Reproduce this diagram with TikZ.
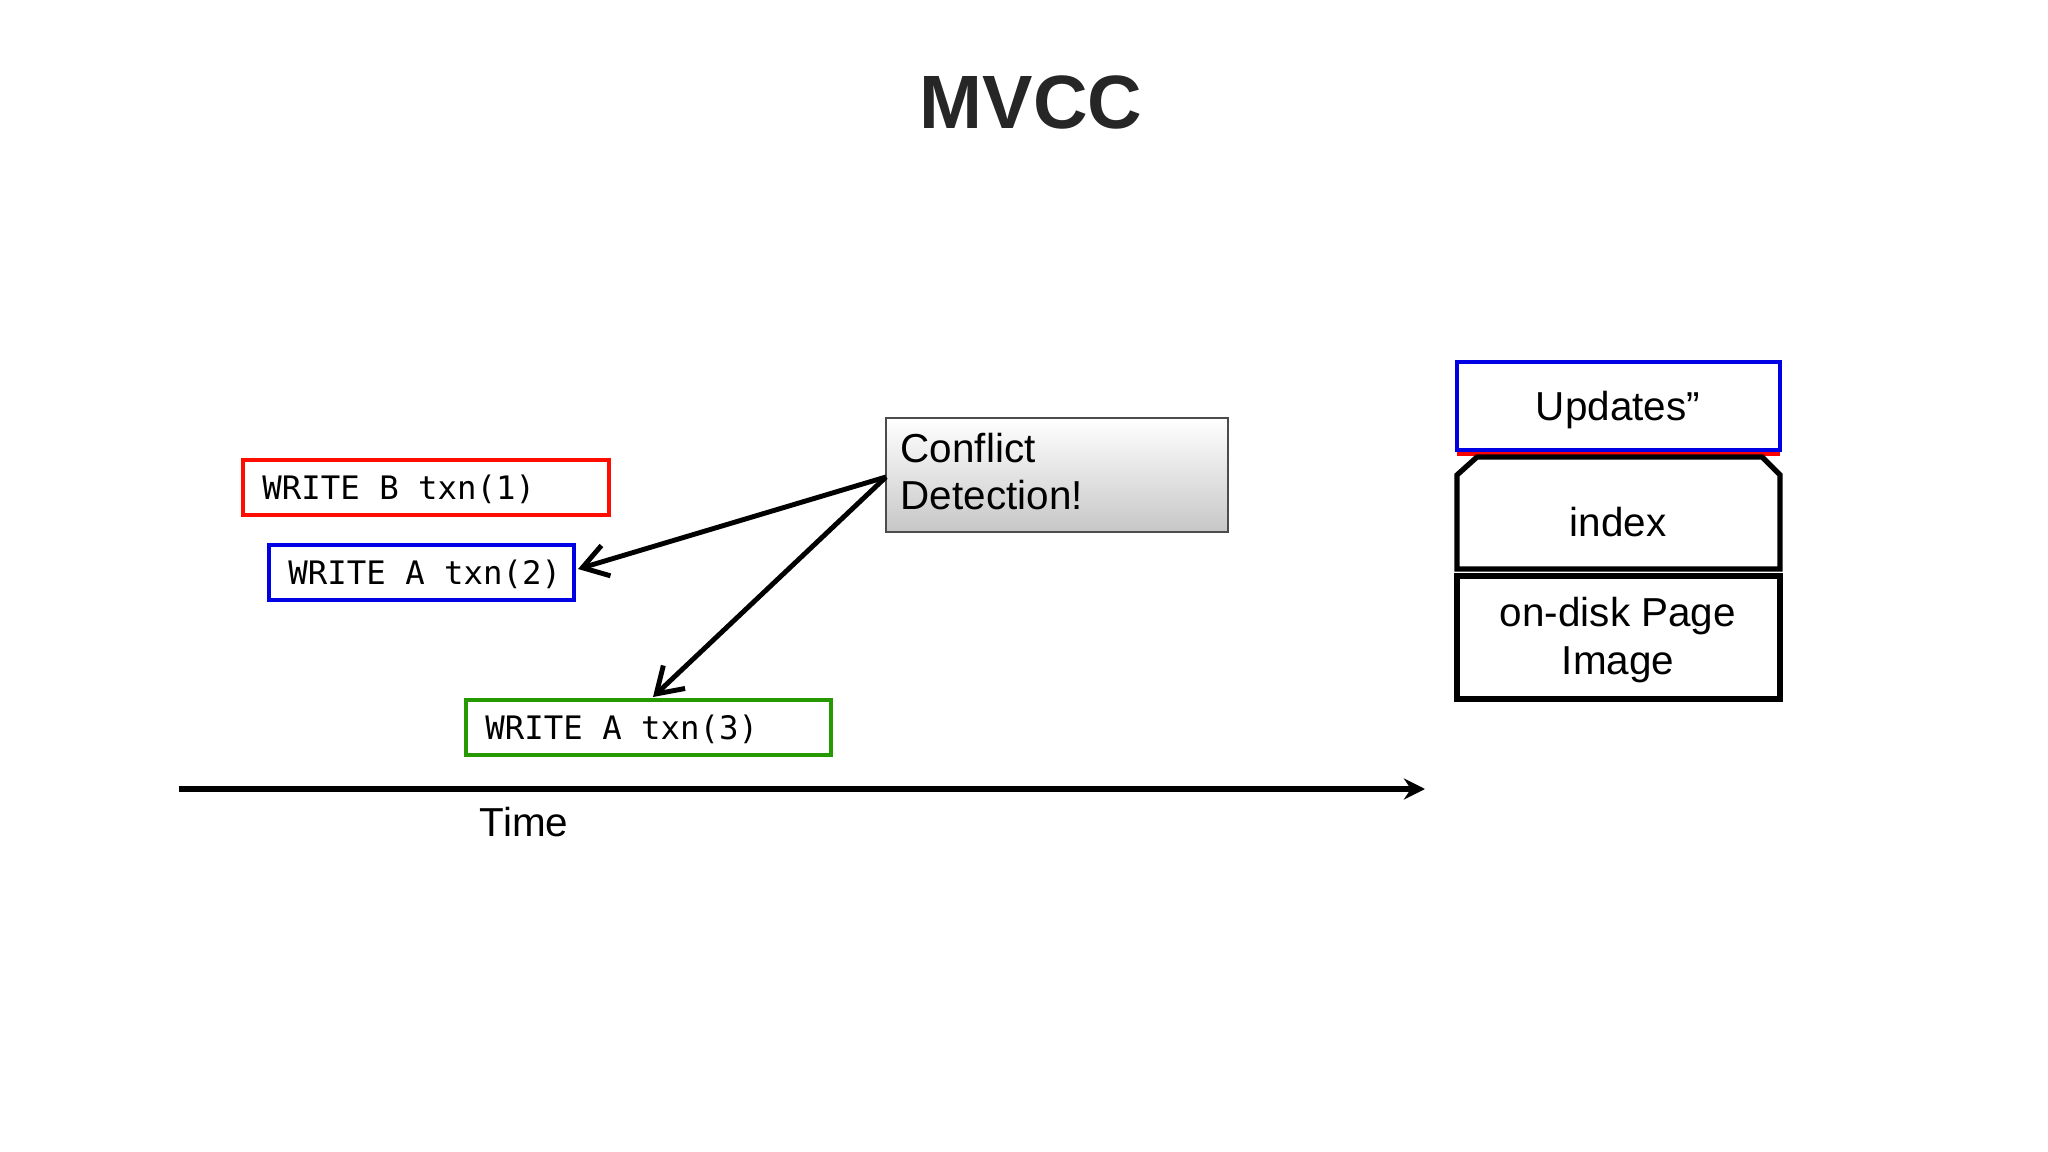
\documentclass[tikz,border=0pt]{standalone}
\usepackage{fontspec}
\setmainfont{Liberation Sans}
\newfontfamily\monof{DejaVu Sans Mono}
\usetikzlibrary{arrows.meta}
\begin{document}
\begin{tikzpicture}[x=0.01cm,y=-0.01cm,
  mono/.style={font=\monof\fontsize{9.2}{11}\selectfont},
  sans/.style={font=\fontsize{11.5}{13.5}\selectfont},
  arr/.style={line width=1.4pt,-{Straight Barb[length=7pt,width=9pt,line width=1.4pt]}}]
\useasboundingbox (0,0) rectangle (2048,1152);
\node[font=\bfseries\fontsize{21.5}{24}\selectfont,text=black!85] (title) at (1031,102) {MVCC};
\draw[red!90!orange,line width=1.2pt] (243,460) rectangle (609,515);
\node[mono,anchor=west] (t1) at (250,489) {WRITE B txn(1)};
\draw[blue!90!black,line width=1.2pt] (269,545) rectangle (574,600);
\node[mono,anchor=west] (t2) at (276,574) {WRITE A txn(2)};
\coordinate (w2) at (578,569);
\draw[green!50!black!80!lime,line width=1.2pt] (466,700) rectangle (831,755);
\node[mono,anchor=west] (t3) at (473,729) {WRITE A txn(3)};
\coordinate (w3) at (653,697);
\shade[top color=white,bottom color=black!22] (886,418) rectangle (1228,532);
\draw[black!70,line width=0.8pt] (886,418) rectangle (1228,532);
\node[sans,anchor=north west,align=left,inner sep=0pt] (cd) at (900,432) {Conflict\\Detection!};
\coordinate (c0) at (886,477);
\draw[arr] (c0) -- (w2);
\draw[arr] (c0) -- (w3);
\coordinate (ta) at (179,789);
\coordinate (tb) at (1425,789);
\draw[line width=1.5pt,-{Stealth[length=6pt,width=6pt]}] (ta) -- (tb);
\node[sans] (time) at (524,822) {Time};
\draw[red,line width=1.2pt] (1457,454) -- (1780,454);
\draw[blue!90!black,line width=1.4pt] (1457,362) rectangle (1780,450);
\node[sans] (up) at (1618,410) {Updates\char"22};
\draw[line width=1.5pt] (1477,457) -- (1762,457) -- (1780,475) -- (1780,569) -- (1457,569) -- (1457,475) -- cycle;
\node[sans] (ix) at (1618,522) {index};
\draw[line width=1.5pt] (1457,576) rectangle (1780,699);
\node[sans,align=center] (pg) at (1618,640) {on-disk Page\\Image};
\end{tikzpicture}
\end{document}
